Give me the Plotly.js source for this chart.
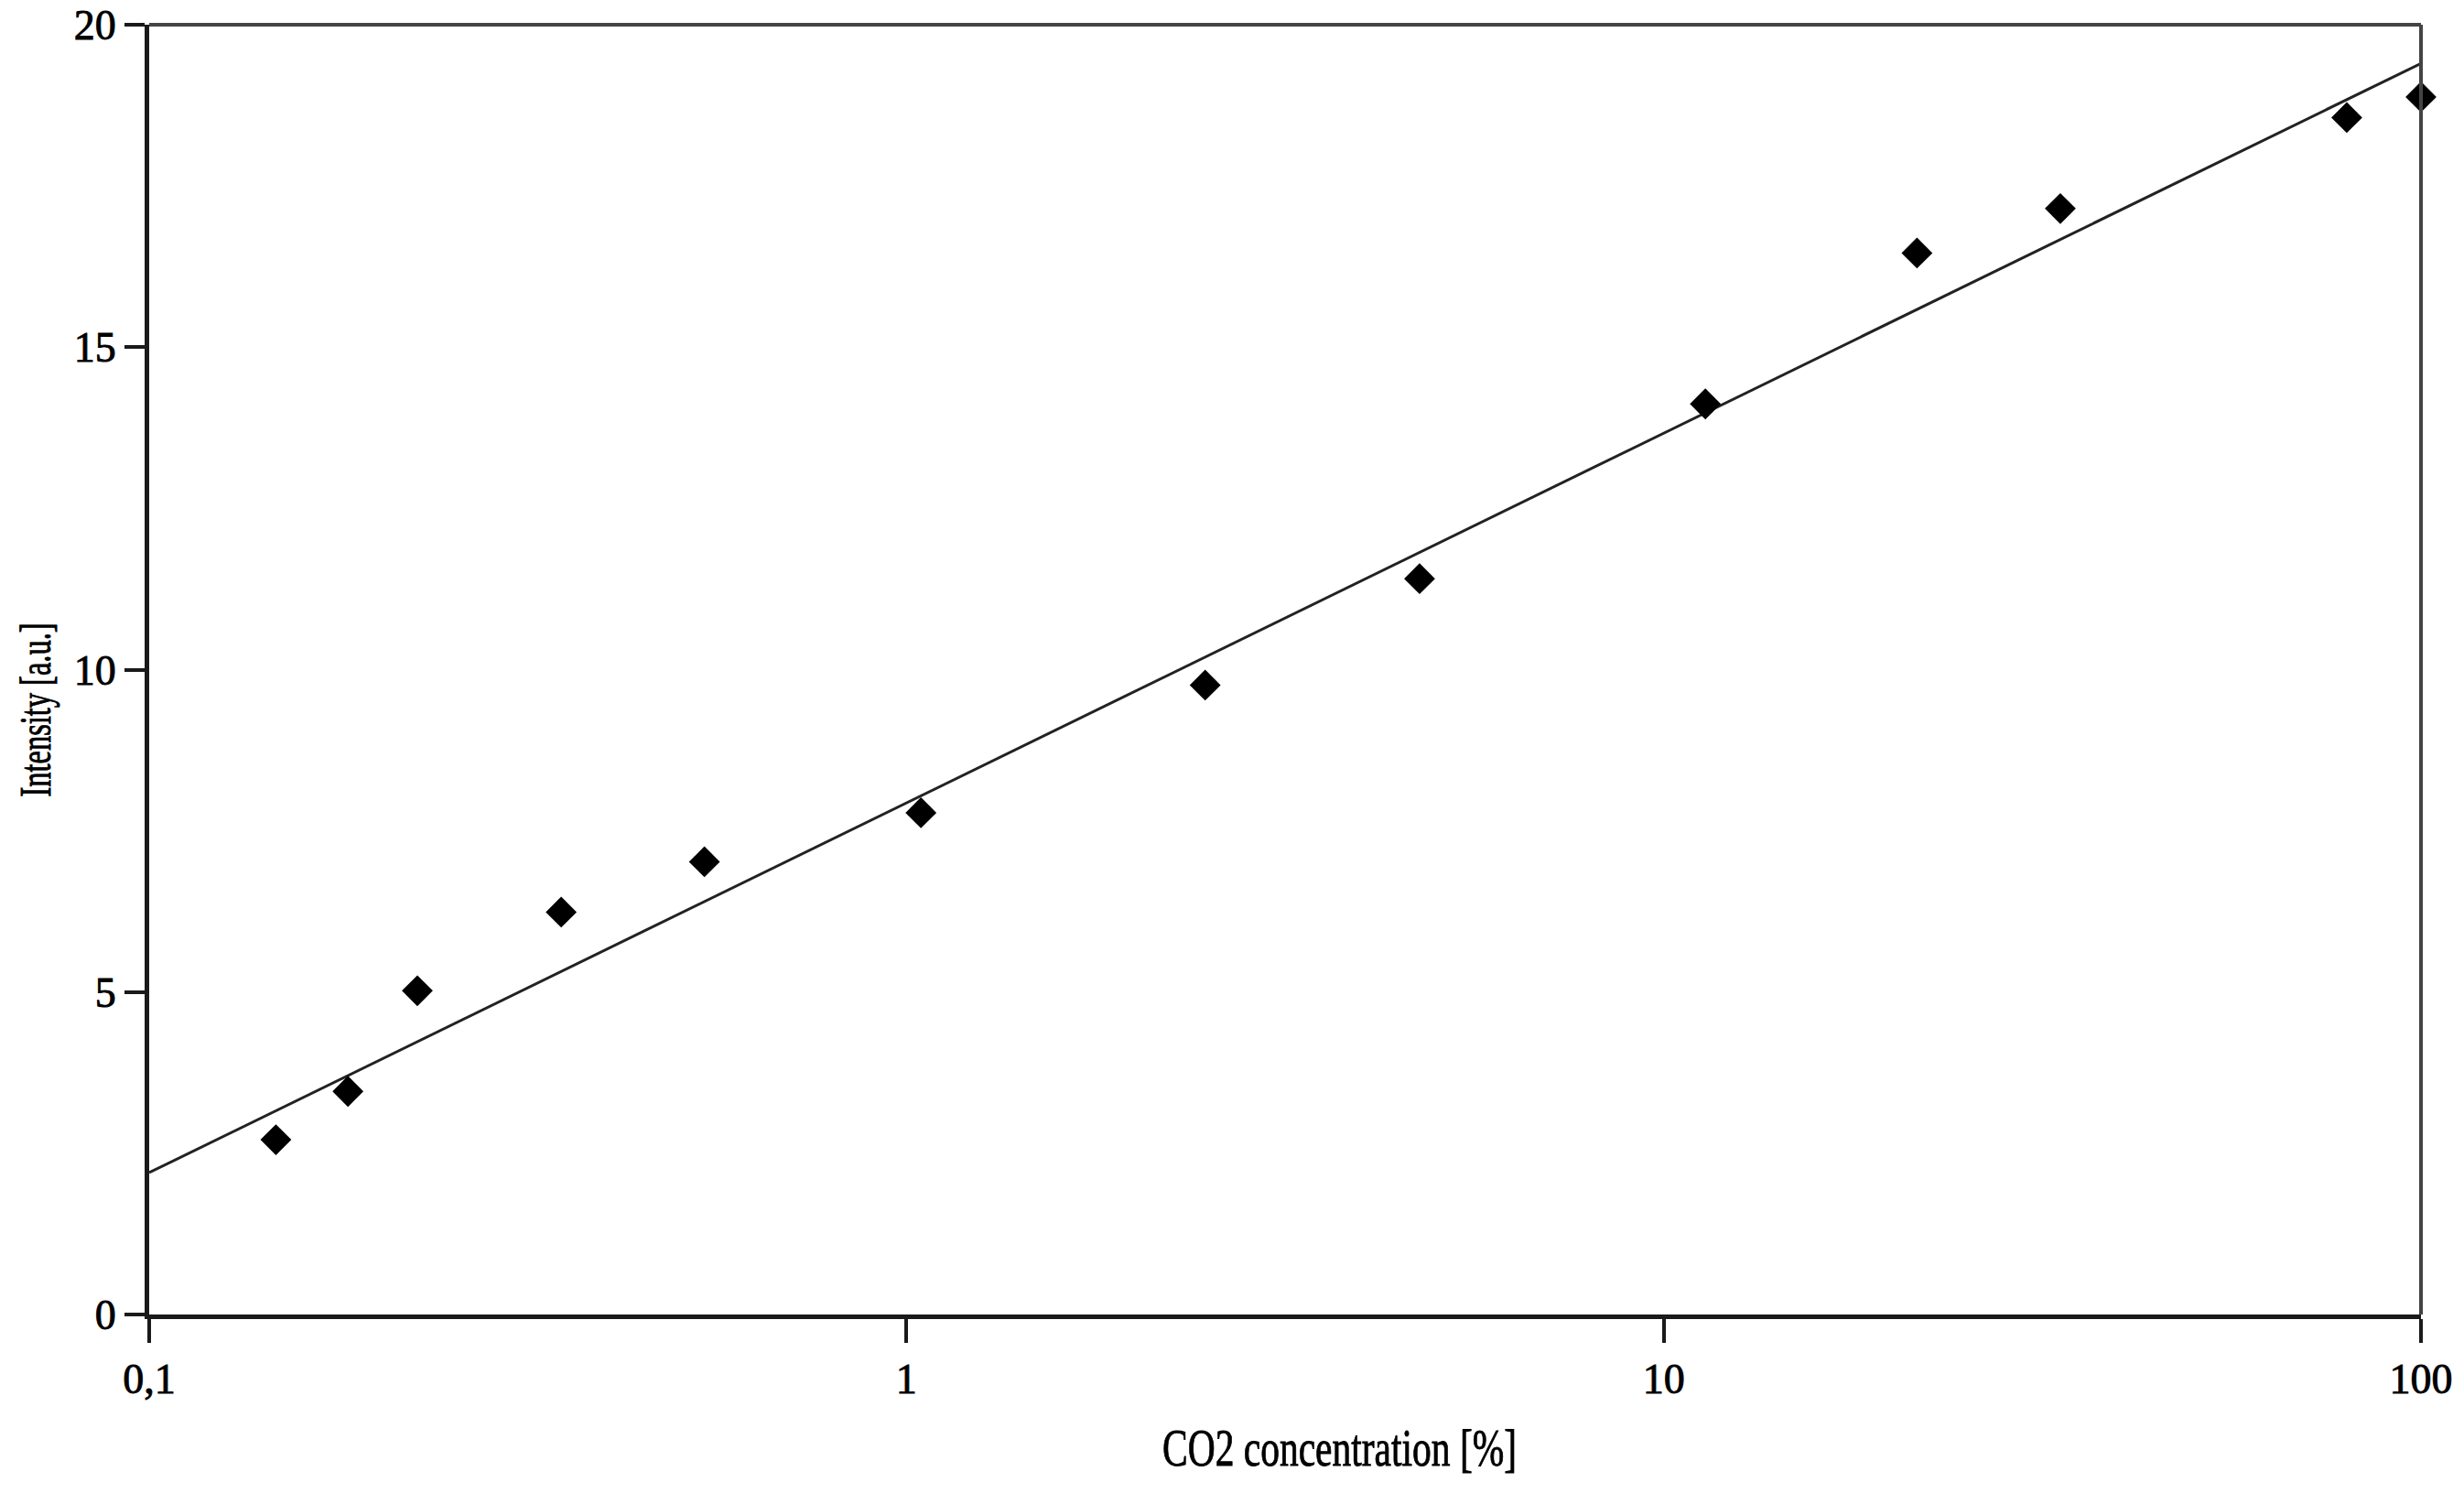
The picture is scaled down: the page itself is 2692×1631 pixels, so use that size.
<!DOCTYPE html>
<html>
<head>
<meta charset="utf-8">
<script src="https://cdn.plot.ly/plotly-3.0.1.min.js"></script>
<style>
html,body{margin:0;padding:0;background:#fff;}
#chart{width:2692px;height:1631px;}
#chart text{stroke:#000 !important;stroke-width:0.9px !important;}
</style>
</head>
<body>
<div id="chart"></div>
<script>
// Measured points
const concentration = [0.147, 0.183, 0.226, 0.350, 0.541, 1.045, 2.48, 4.76, 11.35, 21.6, 33.4, 79.8, 100];
const intensity = [2.71, 3.46, 5.02, 6.24, 7.02, 7.78, 9.76, 11.41, 14.12, 16.46, 17.15, 18.56, 18.88];
// Fitted line end points
const fitX = [0.1, 100];
const fitY = [2.2, 19.4];
// Tick labels
const xTickVals = [0.1, 1, 10, 100];
const xTickText = ["0,1", "1", "10", "100"];
const yTickVals = [0, 5, 10, 15, 20];
const yTickText = ["0", "5", "10", "15", "20"];
const xTitle = "CO2 concentration [%]";
const yTitle = "Intensity [a.u.]";

const font = "Liberation Serif, Times New Roman, serif";

const traces = [
  {x: fitX, y: fitY, mode: "lines", type: "scatter", line: {color: "#222", width: 3}, hoverinfo: "skip", showlegend: false},
  {x: concentration, y: intensity, mode: "markers", type: "scatter", cliponaxis: false,
   marker: {symbol: "diamond", size: 26, color: "#000", line: {width: 0}}, showlegend: false}
];

const layout = {
  width: 2692, height: 1631,
  margin: {l: 163, r: 47, t: 27, b: 195},
  paper_bgcolor: "#fff", plot_bgcolor: "#fff",
  font: {family: font, color: "#000", size: 44},
  xaxis: {
    type: "log", range: [-1, 2],
    tickvals: xTickVals, ticktext: xTickText,
    ticks: "outside", ticklen: 26, tickwidth: 4, tickcolor: "#1a1a1a",
    showline: true, linewidth: 5, linecolor: "#1a1a1a", mirror: false,
    showgrid: false, zeroline: false,
    tickfont: {family: font, size: 46, color: "#000"}
  },
  yaxis: {
    range: [0, 20],
    tickvals: yTickVals, ticktext: yTickText,
    ticks: "outside", ticklen: 22, tickwidth: 4, tickcolor: "#1a1a1a",
    showline: true, linewidth: 5, linecolor: "#1a1a1a", mirror: false,
    showgrid: false, zeroline: false,
    tickfont: {family: font, size: 46, color: "#000"}
  },
  annotations: [
    {text: xTitle, xref: "paper", yref: "paper", x: 0.5238, y: -0.1036, xanchor: "center", yanchor: "middle",
     showarrow: false, font: {family: font, size: 58, color: "#000"}},
    {text: yTitle, xref: "paper", yref: "paper", x: -0.0504, y: 0.469, xanchor: "center", yanchor: "middle",
     textangle: -90, showarrow: false, font: {family: font, size: 48, color: "#000"}}
  ],
  shapes: [
    {type: "line", xref: "paper", yref: "paper", x0: 0, x1: 1, y0: 1, y1: 1, line: {color: "#444", width: 4}},
    {type: "line", xref: "paper", yref: "paper", x0: 1, x1: 1, y0: 0, y1: 1, line: {color: "#444", width: 4}}
  ]
};

Plotly.newPlot("chart", traces, layout, {displayModeBar: false, staticPlot: true}).then(function (gd) {
  // The source figure uses horizontally condensed lettering for its axis titles
  const lengths = {};
  lengths[xTitle] = 387;
  lengths[yTitle] = 190;
  gd.querySelectorAll("g.annotation text.annotation-text").forEach(function (t) {
    const L = lengths[t.textContent];
    if (L) {
      t.setAttribute("textLength", L);
      t.setAttribute("lengthAdjust", "spacingAndGlyphs");
    }
  });
});
</script>
</body>
</html>
